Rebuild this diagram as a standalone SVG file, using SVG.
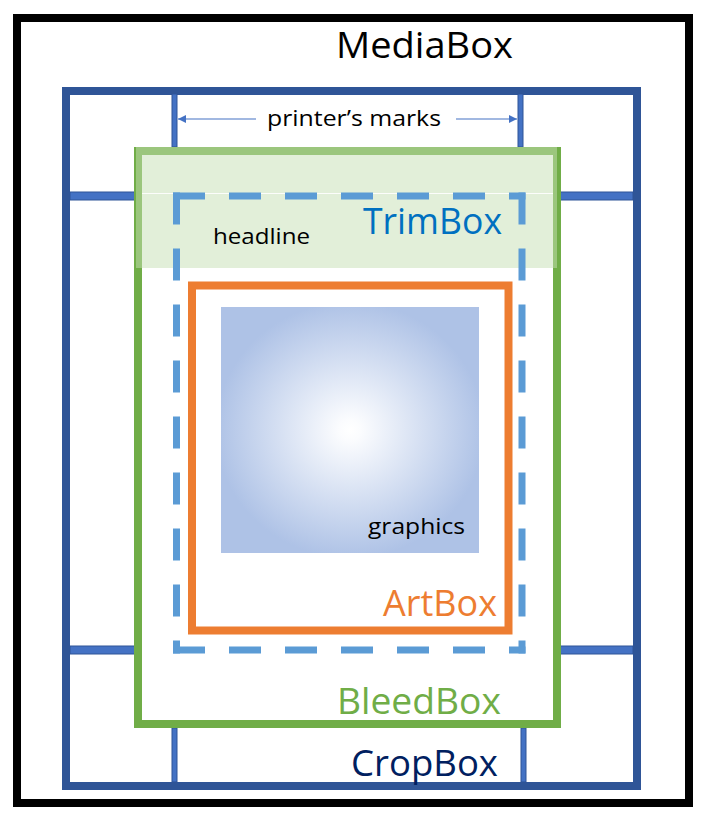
<svg xmlns="http://www.w3.org/2000/svg" width="704" height="820" viewBox="0 0 704 820">
  <style>
    .lbl { font-family: "Open Sans", "Noto Sans", "Liberation Sans", sans-serif; }
    .big { font-size: 36px; }
    .small { font-size: 22px; fill: #000000; }
    .mark { fill: #4472C4; stroke: #2F5597; stroke-width: 1; }
    .trim { fill: none; stroke: #5B9BD5; stroke-width: 7; stroke-dasharray: 32 24; }
    .arrow { stroke: #4472C4; stroke-width: 1.2; fill: none; marker-end: url(#ah); }
  </style>
  <defs>
    <radialGradient id="gfx" cx="50%" cy="50%" r="52%">
      <stop offset="0" stop-color="#FFFFFF"/>
      <stop offset="0.08" stop-color="#FBFCFE"/>
      <stop offset="1" stop-color="#AEC2E6"/>
    </radialGradient>
    <marker id="ah" viewBox="0 0 10 10" refX="10" refY="5" markerWidth="9" markerHeight="8" markerUnits="userSpaceOnUse" orient="auto">
      <path d="M0,0 L10,5 L0,10 z" fill="#4472C4"/>
    </marker>
  </defs>
  <rect x="0" y="0" width="704" height="820" fill="#FFFFFF"/>

  <g id="mediabox">
    <rect x="17" y="18" width="672" height="785" fill="#FFFFFF" stroke="#000000" stroke-width="8"/>
    <text class="lbl big" x="336" y="58" fill="#000000" textLength="177" lengthAdjust="spacingAndGlyphs">MediaBox</text>
  </g>

  <g id="cropbox">
    <rect x="66" y="91" width="571" height="695" fill="none" stroke="#2F5597" stroke-width="8"/>
    <text class="lbl big" x="351" y="776" fill="#002060" textLength="147" lengthAdjust="spacingAndGlyphs">CropBox</text>
  </g>

  <g id="printers-marks">
    <rect class="mark" x="172" y="94" width="5" height="53"/>
    <rect class="mark" x="518" y="94" width="5" height="53"/>
    <rect class="mark" x="70" y="192" width="65" height="8"/>
    <rect class="mark" x="560" y="192" width="73" height="8"/>
    <rect class="mark" x="70" y="646" width="65" height="8"/>
    <rect class="mark" x="560" y="646" width="73" height="8"/>
    <rect class="mark" x="172" y="728" width="5" height="54"/>
    <rect class="mark" x="521" y="728" width="5" height="54"/>
    <text class="lbl small" x="267" y="126" textLength="174" lengthAdjust="spacingAndGlyphs">printer’s marks</text>
  </g>

  <g id="connectors">
    <line class="arrow" x1="256" y1="119" x2="178" y2="119"/>
    <line class="arrow" x1="456" y1="119" x2="517" y2="119"/>
  </g>

  <g id="bleedbox">
    <rect x="138" y="151" width="419" height="573" fill="#FFFFFF" stroke="#70AD47" stroke-width="8"/>
    <rect x="136" y="147" width="421" height="121" fill="#C5E0B4" opacity="0.5"/>
    <line x1="142" y1="193.5" x2="553" y2="193.5" stroke="#FFFFFF" stroke-width="1" opacity="0.9"/>
    <text class="lbl small" x="213" y="244" textLength="97" lengthAdjust="spacingAndGlyphs">headline</text>
    <text class="lbl big" x="337" y="714" fill="#70AD47" textLength="164" lengthAdjust="spacingAndGlyphs">BleedBox</text>
  </g>

  <g id="trimbox">
    <path class="trim" d="M173 196 H525.5"/>
    <path class="trim" d="M522 192.5 V653.5"/>
    <path class="trim" d="M173 650 H525.5"/>
    <path class="trim" d="M176.5 192.5 V653.5"/>
    <text class="lbl big" x="363" y="234" fill="#0070C0" textLength="139" lengthAdjust="spacingAndGlyphs">TrimBox</text>
  </g>

  <g id="artbox">
    <rect x="192" y="285.5" width="316.5" height="345" fill="#FFFFFF" stroke="#ED7D31" stroke-width="8"/>
    <text class="lbl big" x="383" y="616" fill="#ED7D31" textLength="114" lengthAdjust="spacingAndGlyphs">ArtBox</text>
  </g>

  <g id="graphics">
    <rect x="221" y="307" width="258" height="246" fill="url(#gfx)"/>
    <text class="lbl small" x="368" y="534" textLength="97" lengthAdjust="spacingAndGlyphs">graphics</text>
  </g>
</svg>
